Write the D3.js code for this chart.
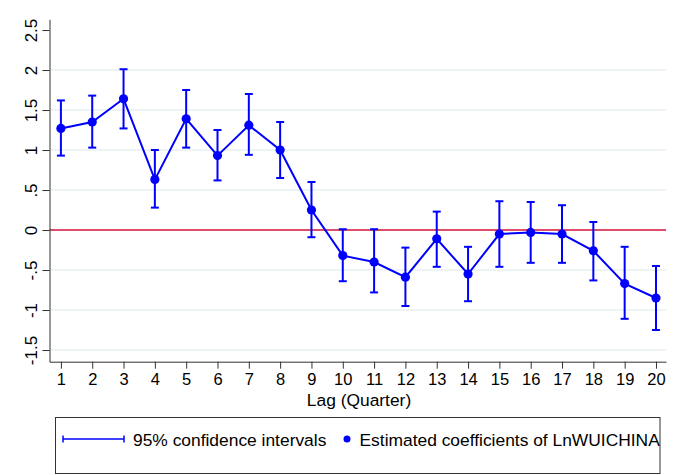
<!DOCTYPE html>
<html>
<head>
<meta charset="utf-8">
<script src="https://cdn.jsdelivr.net/npm/d3@7"></script>
<style>
  body { margin: 0; background: #fff; }
  svg { font-family: "Liberation Sans", Arial, sans-serif; }
</style>
</head>
<body>
<svg width="685" height="475"></svg>
<script>
// lag (quarter) on the x axis
const lags = [1, 2, 3, 4, 5, 6, 7, 8, 9, 10, 11, 12, 13, 14, 15, 16, 17, 18, 19, 20];
// estimated coefficients of LnWUICHINA
const coef = [1.27, 1.35, 1.64, 0.63, 1.39, 0.93, 1.31, 1.00, 0.25, -0.32,
              -0.40, -0.59, -0.11, -0.55, -0.05, -0.03, -0.05, -0.26, -0.67, -0.85];
// 95% confidence interval bounds
const upper = [1.62, 1.68, 2.01, 1.00, 1.75, 1.25, 1.70, 1.35, 0.60, 0.01,
               0.01, -0.22, 0.23, -0.21, 0.36, 0.35, 0.31, 0.10, -0.21, -0.45];
const lower = [0.93, 1.03, 1.27, 0.28, 1.03, 0.62, 0.94, 0.65, -0.09, -0.64,
               -0.78, -0.95, -0.46, -0.89, -0.46, -0.41, -0.41, -0.63, -1.11, -1.25];
// y axis ticks
const yTicks = [-1.5, -1, -0.5, 0, 0.5, 1, 1.5, 2, 2.5];
const yTickLabels = ["-1.5", "-1", "-.5", "0", ".5", "1", "1.5", "2", "2.5"];
const gridTicks = [-1.5, -1, -0.5, 0.5, 1, 1.5, 2];

const svg = d3.select("svg");
const blue = "#0000ff";

const x = d3.scaleLinear().domain([0.636, 20.32]).range([49.5, 666]);
const y = d3.scaleLinear().domain([-1.646, 2.634]).range([361.7, 19.3]);

const data = lags.map((l, i) => ({lag: l, b: coef[i], hi: upper[i], lo: lower[i]}));

// gridlines
svg.append("g").selectAll("line").data(gridTicks).join("line")
  .attr("x1", x.range()[0]).attr("x2", x.range()[1])
  .attr("y1", d => y(d)).attr("y2", d => y(d))
  .attr("stroke", "#e8f0f2").attr("stroke-width", 1.3);

// zero reference line
svg.append("line")
  .attr("x1", x.range()[0]).attr("x2", x.range()[1])
  .attr("y1", y(0)).attr("y2", y(0))
  .attr("stroke", "#d0103a").attr("stroke-width", 1.5);

// axes
const yAxis = d3.axisLeft(y).tickValues(yTicks)
  .tickFormat((d, i) => yTickLabels[i]).tickSize(7).tickSizeOuter(0);
const yG = svg.append("g").attr("transform", `translate(${x.range()[0]},0)`).call(yAxis);
yG.selectAll("text")
  .attr("x", 0).attr("y", 0).attr("dy", 0)
  .attr("transform", "translate(-13,0) rotate(-90)")
  .attr("text-anchor", "middle")
  .style("font-size", "17px").attr("fill", "#000");

const xAxis = d3.axisBottom(x).tickValues(lags).tickSize(7).tickSizeOuter(0).tickPadding(5);
const xG = svg.append("g").attr("transform", `translate(0,${y.range()[0]})`).call(xAxis);
xG.selectAll("text").style("font-size", "16.5px").attr("fill", "#000");

[yG, xG].forEach(a => {
  a.select(".domain").attr("stroke", "#333");
  a.selectAll(".tick line").attr("stroke", "#333");
});

svg.append("text")
  .attr("x", 359).attr("y", 406)
  .attr("text-anchor", "middle")
  .style("font-size", "17.4px")
  .text("Lag (Quarter)");

// confidence interval caps
const ci = svg.append("g").attr("stroke", blue).attr("stroke-width", 2);
ci.selectAll(".v").data(data).join("line").attr("class", "v")
  .attr("x1", d => x(d.lag)).attr("x2", d => x(d.lag))
  .attr("y1", d => y(d.hi)).attr("y2", d => y(d.lo));
ci.selectAll(".t").data(data).join("line").attr("class", "t")
  .attr("x1", d => x(d.lag) - 4).attr("x2", d => x(d.lag) + 4)
  .attr("y1", d => y(d.hi)).attr("y2", d => y(d.hi));
ci.selectAll(".b").data(data).join("line").attr("class", "b")
  .attr("x1", d => x(d.lag) - 4).attr("x2", d => x(d.lag) + 4)
  .attr("y1", d => y(d.lo)).attr("y2", d => y(d.lo));

// connected coefficients
svg.append("path").datum(data)
  .attr("fill", "none").attr("stroke", blue).attr("stroke-width", 2)
  .attr("d", d3.line().x(d => x(d.lag)).y(d => y(d.b)));

svg.append("g").selectAll("circle").data(data).join("circle")
  .attr("cx", d => x(d.lag)).attr("cy", d => y(d.b))
  .attr("r", 4.6).attr("fill", blue);

// legend
const legend = svg.append("g");
legend.append("rect")
  .attr("x", 55.5).attr("y", 417.5).attr("width", 604.5).attr("height", 56)
  .attr("fill", "none").attr("stroke", "#333").attr("stroke-width", 1);
legend.append("line").attr("x1", 63).attr("x2", 124).attr("y1", 439).attr("y2", 439)
  .attr("stroke", blue).attr("stroke-width", 1.5);
[63, 124].forEach(lx => legend.append("line")
  .attr("x1", lx).attr("x2", lx).attr("y1", 435.5).attr("y2", 442.5)
  .attr("stroke", blue).attr("stroke-width", 1.5));
legend.append("text").attr("x", 133).attr("y", 445.5)
  .style("font-size", "17.4px").text("95% confidence intervals");
legend.append("circle").attr("cx", 347).attr("cy", 439).attr("r", 3.5).attr("fill", blue);
legend.append("text").attr("x", 359.5).attr("y", 445.5)
  .style("font-size", "17.4px").text("Estimated coefficients of LnWUICHINA");
</script>
</body>
</html>
